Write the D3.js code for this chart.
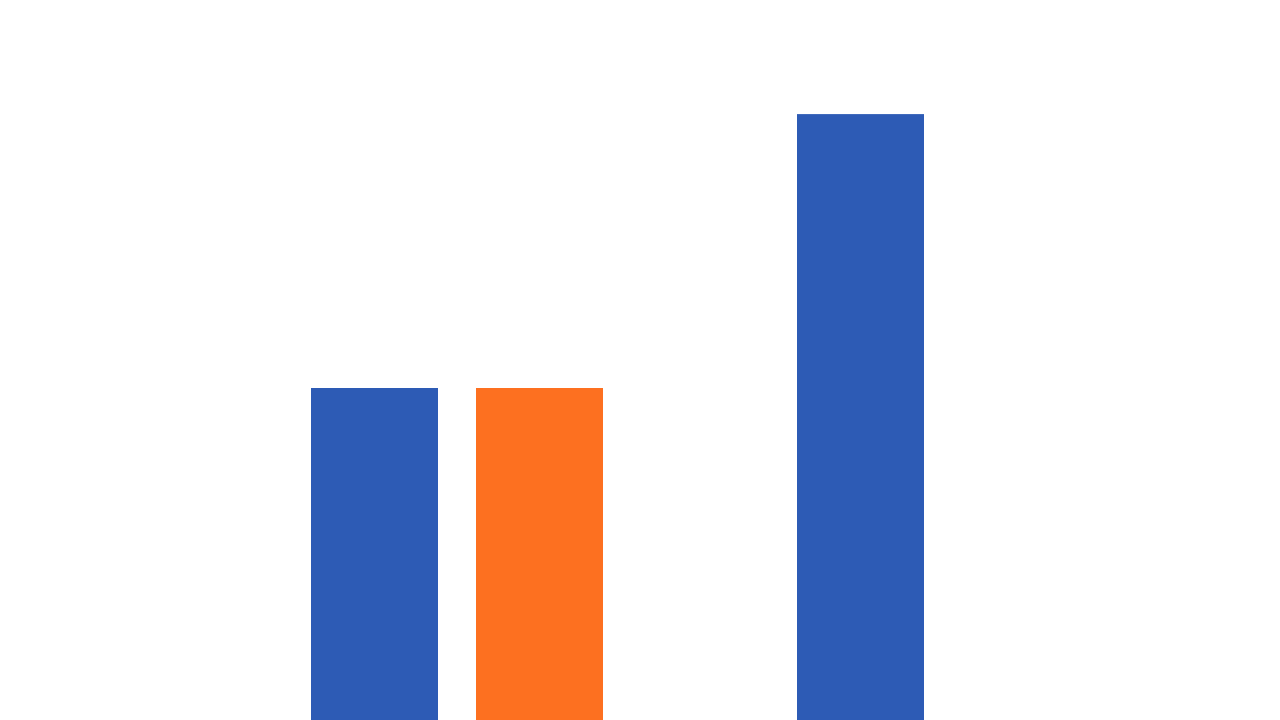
<!DOCTYPE html>
<html>
<head>
<meta charset="utf-8">
<script src="https://cdn.jsdelivr.net/npm/d3@7"></script>
<style>
  html, body { margin: 0; padding: 0; background: #ffffff; overflow: hidden; }
  svg { display: block; }
</style>
</head>
<body>
<svg id="chart" width="1280" height="720"></svg>
<script>
// Data
const groups = ["Group A", "Group B"];
const seriesNames = ["Series 1", "Series 2"];
const series1Values = [120, 219];
const series2Values = [120, 0];
const seriesColors = ["#2d5bb5", "#fd7020"];

const W = 1280, H = 720;
const svg = d3.select("#chart");

const x0 = d3.scaleBand()
  .domain(groups)
  .range([311, 1089])
  .paddingInner(194 / 486)
  .paddingOuter(0);

const x1 = d3.scaleBand()
  .domain(seriesNames)
  .range([0, x0.bandwidth()])
  .paddingInner(38 / 165)
  .paddingOuter(0);

const y = d3.scaleLinear()
  .domain([0, 240])
  .range([H, 56]);

const color = d3.scaleOrdinal().domain(seriesNames).range(seriesColors);

const rows = groups.map((g, i) => ({
  group: g,
  values: [
    { key: seriesNames[0], value: series1Values[i] },
    { key: seriesNames[1], value: series2Values[i] }
  ]
}));

const g = svg.selectAll("g.group")
  .data(rows)
  .join("g")
  .attr("class", "group")
  .attr("transform", d => `translate(${x0(d.group)},0)`);

g.selectAll("rect")
  .data(d => d.values.filter(v => v.value > 0))
  .join("rect")
  .attr("x", d => x1(d.key))
  .attr("y", d => y(d.value))
  .attr("width", x1.bandwidth())
  .attr("height", d => y(0) - y(d.value))
  .attr("fill", d => color(d.key));
</script>
</body>
</html>
